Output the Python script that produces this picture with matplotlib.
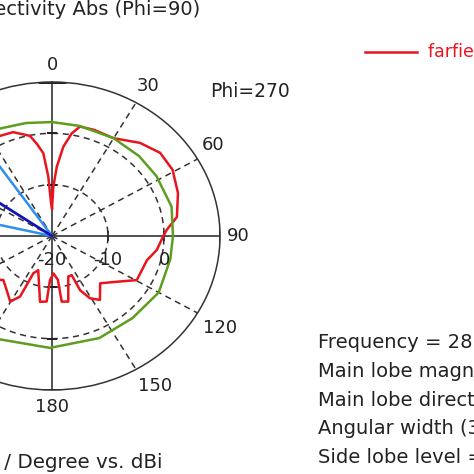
import numpy as np
import matplotlib
matplotlib.use("Agg")
from matplotlib import pyplot as plt

# farfield directivity cut, theta in degrees (0..360 around the plot), dBi
red_theta = [0, 1.4, 3.6, 6.6, 10, 13.2, 20, 30, 35.7, 40.9, 50, 59, 69.6, 80.6,
             86.7, 90.5, 98.3, 105.5, 119.6, 127.6, 137, 145.5, 150.8, 154.6,
             155.2, 159.8, 167.2, 172.3, 173, 178, 182.4, 184.3, 189.5, 200.3,
             204.7, 205.8, 210.3, 217.5, 225.4, 227.3, 240, 260, 283, 304,
             325, 334.5, 341, 348.6, 351.5, 354.5, 356.7, 358.5, 360]
red_dbi = [-14.6, -10.4, -6.5, -2.5, 0.3, 1.9, 2.0, 2.0, 2.9, 4.0, 5.2, 5.1, 4.0, 2.6,
           0.5, -0.2, -1.1, -2.4, -2.6, -5.4, -7.4, -4.9, -6.1, -8.3,
           -11.6, -11.6, -6.9, -7.1, -11.4, -12.7, -11.4, -7.2, -7.0, -12.9,
           -12.0, -6.9, -5.2, -6.7, -7.8, -7.4, -3.0, 3.0, 6.7, 9.7,
           6.7, 1.6, 1.4, -0.1, -1.9, -3.8, -8.4, -13.6, -14.6]

green_theta = [0, 13, 30, 45, 58, 75, 90, 102, 120, 138, 157, 181, 205, 220,
               240, 255, 270, 285, 300, 320, 336, 348, 360]
green_dbi = [2.2, 2.0, 2.0, 2.0, 2.0, 2.1, 1.6, 1.6, 2.0, 1.5, 1.6, 1.8, 2.2, 2.4,
             2.6, 2.8, 3.0, 3.0, 3.0, 3.0, 2.9, 2.5, 2.2]

main_dir = 304.4
beam_edges = [283, 325.4]

angle_ticks = [0, 30, 60, 90, 120, 150, 180]
angle_labels = ["0", "30", "60", "90", "120", "150", "180"]
# label offsets from the outer ring, in points
angle_offsets = [(0, 12), (9, 12), (11, 10), (13, 0), (16, -11), (14, -12), (0, -12)]
r_min, r_max = -20, 10
r_labels = [-20, -10, 0]

info_lines = ["Frequency = 28 GHz",
              "Main lobe magnitude = 9.7 dBi",
              "Main lobe direction = 304.0 deg.",
              "Angular width (3 dB) = 42.4 deg.",
              "Side lobe level = -4.5 dB"]

plt.rcParams['font.family'] = ['DejaVu Sans']
plt.rcParams['font.size'] = 13

fig = plt.figure(figsize=(4.74, 4.74), dpi=100)
ax = fig.add_axes([-0.2447, 0.1772, 0.7089, 0.6498], projection='polar')
ax.set_aspect('auto')
ax.set_theta_zero_location('N')
ax.set_theta_direction(-1)
ax.set_ylim(r_min, r_max)
ax.grid(False)
ax.set_yticks([])
ax.set_xticks([])
ax.spines['polar'].set_color('#333333')
ax.spines['polar'].set_linewidth(1.1)

# grid: dashed circles and spokes, solid main axes
circ = np.linspace(0, 2 * np.pi, 400)
for rv in [-10, 0]:
    ax.plot(circ, np.full_like(circ, rv), color='#333333', lw=1.1, ls=(0, (4, 3)))
for a in range(0, 360, 30):
    if a % 90 == 0:
        ax.plot([np.radians(a)] * 2, [r_min, r_max], color='#222222', lw=1.1)
    else:
        ax.plot([np.radians(a)] * 2, [r_min, r_max], color='#333333', lw=1.1,
                ls=(0, (4, 3)))
ax.plot(np.radians([0, 0, 180, 180]), [-10, 0, -10, 0], ls='none', marker='_',
        ms=7, mew=1.2, color='#222222')
ax.plot(np.radians([90, 90]), [-10, 0], ls='none', marker='|', ms=7, mew=1.2,
        color='#222222')
ax.plot(np.radians([0, 180]), [r_max, r_max], ls='none', marker='_', ms=20,
        mew=2, color='#222222')
ax.plot(np.radians([90]), [r_max], ls='none', marker='|', ms=16, mew=2,
        color='#222222')

# main lobe direction and 3 dB width
for a in beam_edges:
    ax.plot([np.radians(a)] * 2, [r_min, r_max], color='#2f8ff0', lw=1.8)
ax.plot([np.radians(main_dir)] * 2, [r_min, r_max], color='#1414b4', lw=2)

ax.plot(np.radians(red_theta), red_dbi, color='#e8141e', lw=1.8)
ax.plot(np.radians(green_theta), green_dbi, color='#5e9e1e', lw=1.8)

for a, lab, off in zip(angle_ticks, angle_labels, angle_offsets):
    ax.annotate(lab, xy=(np.radians(a), r_max), xytext=off,
                textcoords='offset points', ha='center', va='center',
                color='#222222', fontsize=13, annotation_clip=False)

for rv in r_labels:
    ax.annotate(str(rv), xy=(np.pi / 2, rv), xytext=(0, -17),
                textcoords='offset points', ha='center', va='center',
                color='#222222', fontsize=13)

fig.text(0.422, 0.979, "Farfield Directivity Abs (Phi=90)", ha='right',
         va='center', color='#222222', fontsize=14)
fig.text(0.443, 0.806, "Phi=270", ha='left', va='center', color='#222222',
         fontsize=13.5)
fig.lines.append(plt.Line2D([0.770, 0.880], [0.890, 0.890], color='#e8141e',
                            lw=1.8, transform=fig.transFigure))
fig.text(0.903, 0.890, "farfield (f=28) [1]", ha='left', va='center',
         color='#e8141e', fontsize=12.5)
fig.text(0.342, 0.025, "Theta / Degree vs. dBi", ha='right', va='center',
         color='#222222', fontsize=14.3)
for i, line in enumerate(info_lines):
    fig.text(0.671, 0.277 - i * 0.0605, line, ha='left', va='center',
             color='#222222', fontsize=14)

fig.savefig("out.png", dpi=100, facecolor='white')
